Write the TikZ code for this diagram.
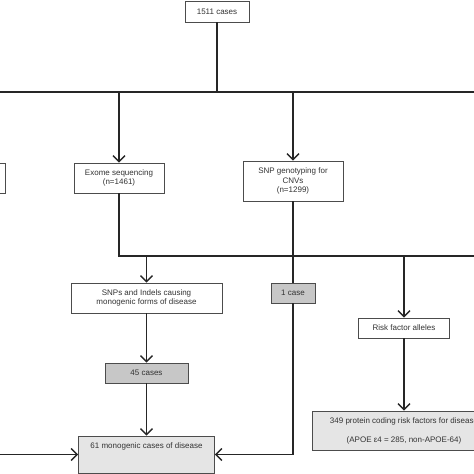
\documentclass[tikz,border=0pt]{standalone}
\usepackage{fontspec}
\setmainfont{Liberation Sans}
\usetikzlibrary{arrows.meta}
\begin{document}
\begin{tikzpicture}[x=1pt,y=-1pt,
    every node/.style={font=\fontsize{8}{9.5}\selectfont, text=black!80, align=center, inner sep=1pt},
    box/.style={draw=black!70, line width=0.8pt, fill=white},
    darkbox/.style={box, fill=black!22},
    litebox/.style={box, fill=black!10},
    line/.style={draw=black!85, line width=1.1pt},
    arr/.style={line, -{Straight Barb[length=6pt,width=12pt,line width=1.4pt]}}]
        \useasboundingbox (0,0) rectangle (474,474);
        \clip (0,0) rectangle (474,474);
        % boxes
        \node[box, minimum width=64pt, minimum height=21pt] (cases) at (217,11.5) {1511 cases};
        \node[box, minimum width=90pt, minimum height=30pt] (hidden) at (-40,178) {};
        \node[box, minimum width=90pt, minimum height=30pt] (exome) at (119,178) {Exome sequencing\\(n=1461)};
        \node[box, minimum width=100pt, minimum height=40pt] (snp) at (293,181) {SNP genotyping for\\CNVs\\(n=1299)};
        \node[box, minimum width=151pt, minimum height=30pt] (indel) at (146.5,298) {SNPs and Indels causing\\monogenic forms of disease};
        \node[darkbox, minimum width=44pt, minimum height=20pt] (onecase) at (293,293) {1 case};
        \node[box, minimum width=91pt, minimum height=20pt] (risk) at (404,328) {Risk factor alleles};
        \node[darkbox, minimum width=83pt, minimum height=20pt] (fortyfive) at (146.5,373) {45 cases};
        \node[litebox, minimum width=136pt, minimum height=37pt] (mono) at (146.5,454.5) {};
        \node (monotext) at ([yshift=-11pt]mono.north) {61 monogenic cases of disease};
        \node[litebox, minimum width=184pt, minimum height=39pt] (riskf) at (404,430.5) {349 protein coding risk factors for disease\\[9.5pt](APOE ε4 = 285, non-APOE-64)};
        % connectors
        \coordinate (westA) at (0,92);
        \coordinate (eastA) at (474,92);
        \coordinate (eastB) at (474,256);
        \coordinate (westC) at (0,454.5);
        \draw[line] (westA) -- (eastA);
        \draw[line] (cases.south) -- (cases.south |- westA);
        \draw[arr] (hidden.north |- westA) -- (hidden.north);
        \draw[arr] (exome.north |- westA) -- (exome.north);
        \draw[arr] (snp.north |- westA) -- (snp.north);
        \draw[line] (exome.south) |- (eastB);
        \draw[arr] (indel.north |- eastB) -- (indel.north);
        \draw[line] (snp.south) -- (onecase.north);
        \draw[arr] (risk.north |- eastB) -- (risk.north);
        \draw[arr] (indel.south) -- (fortyfive.north);
        \draw[arr] (fortyfive.south) -- (mono.north);
        \draw[arr] (onecase.south) |- (mono.east);
        \draw[arr] (westC) -- (mono.west);
        \draw[arr] (risk.south) -- (riskf.north);
    \end{tikzpicture}
\end{document}
